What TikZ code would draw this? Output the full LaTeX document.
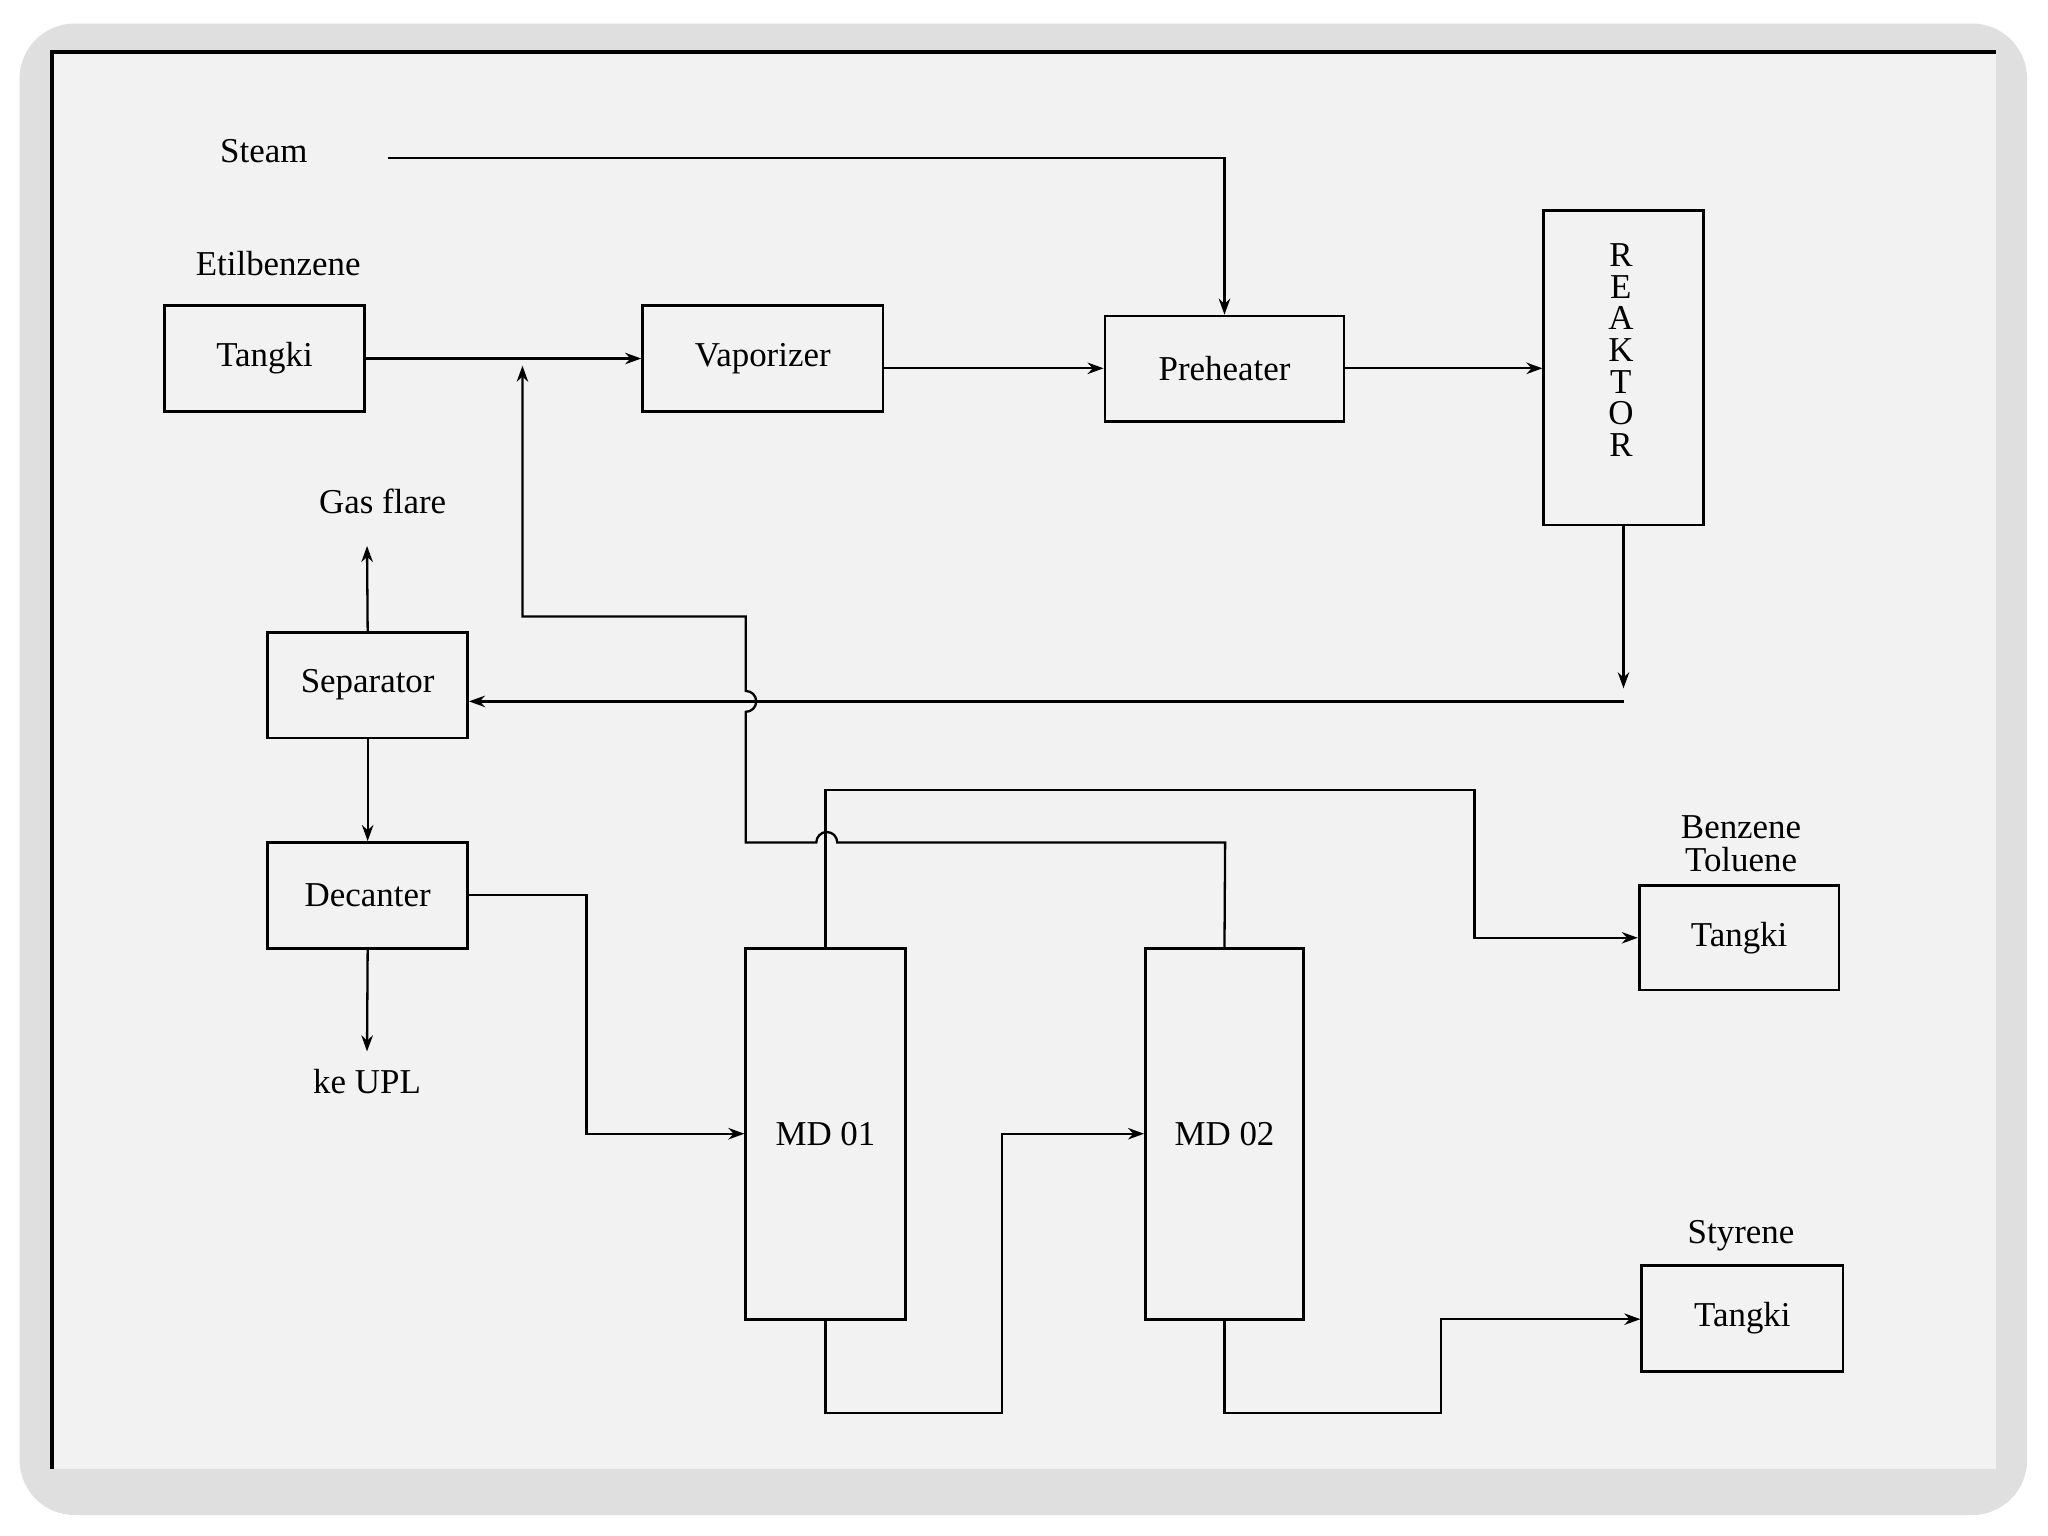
\documentclass[tikz,border=0pt]{standalone}
\usepackage{fontspec}
\setmainfont{Liberation Serif}
\usetikzlibrary{arrows.meta}
\begin{document}
\begin{tikzpicture}[x=0.01cm,y=-0.01cm,
 box/.style={draw,line width=0.6pt,minimum width=#1,inner sep=0pt,font=\fontsize{7.6}{9}\selectfont},
 lbl/.style={font=\fontsize{7.6}{9}\selectfont,inner sep=0pt},
 ln/.style={line width=0.5pt},
 arr/.style={ln,-{Stealth[length=3.5pt,width=2.5pt]}}]
\useasboundingbox (0,0) rectangle (1568,1176);
\fill[white] (0,0) rectangle (1568,1176);
\fill[gray!25,rounded corners=12] (15,18) rectangle (1552,1160);
\fill[gray!10] (40,40) rectangle (1528,1125);
\draw[line width=0.8pt] (40,1125) -- (40,40) -- (1528,40);
% nodes
\node[box, minimum width=153*0.01cm, minimum height=81*0.01cm] (t1) at (202.5,274.5) {Tangki};
\node[box, minimum width=184*0.01cm, minimum height=81*0.01cm] (vap) at (584,274.5) {Vaporizer};
\node[box, minimum width=183*0.01cm, minimum height=81*0.01cm] (pre) at (937.5,282.5) {Preheater};
\node[box, minimum width=122*0.01cm, minimum height=241*0.01cm] (rea) at (1243,281.5) {};
\node[lbl, align=center,font=\fontsize{7.6}{6.9}\selectfont] at (1241,268) {R\\E\\A\\K\\T\\O\\R};
\node[box, minimum width=153*0.01cm, minimum height=81*0.01cm] (sep) at (281.5,524.5) {Separator};
\node[box, minimum width=153*0.01cm, minimum height=81*0.01cm] (dec) at (281.5,685.5) {Decanter};
\node[box, minimum width=122*0.01cm, minimum height=284*0.01cm] (md1) at (632,868) {MD 01};
\node[box, minimum width=121*0.01cm, minimum height=284*0.01cm] (md2) at (937.5,868) {MD 02};
\node[box, minimum width=153*0.01cm, minimum height=80*0.01cm] (tbt) at (1331.5,718) {Tangki};
\node[box, minimum width=154*0.01cm, minimum height=81*0.01cm] (tst) at (1334,1009.5) {Tangki};
% labels
\node[lbl] (steam) at (202,116) {Steam};
\node[lbl] at (213,202) {Etilbenzene};
\node[lbl] (gas) at (293,384) {Gas flare};
\node[lbl] (upl) at (281,828) {ke UPL};
\node[lbl,align=center,font=\fontsize{7.6}{7.2}\selectfont] at (1333,646) {Benzene\\Toluene};
\node[lbl] at (1333,946) {Styrene};
\coordinate (sa) at (297,121);
% connectors
\draw[arr] (sa) -| (pre.north);
\draw[arr] (t1.east) -- (vap.west);
\draw[arr] (vap.east |- 0,282) -- (pre.west |- 0,282);
\draw[arr] (pre.east |- 0,282) -- (rea.west |- 0,282);
\draw[arr] (rea.south) -- (1243,527);
\draw[arr] (1243,537) -- (sep.east |- 0,537);
\draw[arr] (sep.north) -- (281,418);
\draw[arr] (sep.south) -- (dec.north);
\draw[arr] (dec.south) -- (281,805);
\draw[arr] (dec.east) -| (449,868) -- (md1.west);
\draw[arr] (md1.north) |- (1129,605) |- (tbt.west);
\draw[arr] (md1.south) |- (767,1082) |- (md2.west);
\draw[arr] (md2.south) |- (1103,1082) |- (tst.west |- 0,1010);
% recycle with jumps
\draw[arr] (md2.north) -- (938,645) -- (641,645) arc[start angle=0,end angle=-180,radius=8] -- (571,645) -- (571,545) arc[start angle=90,end angle=-90,radius=8] -- (571,472) -- (400,472) -- (400,280);
\end{tikzpicture}
\end{document}
